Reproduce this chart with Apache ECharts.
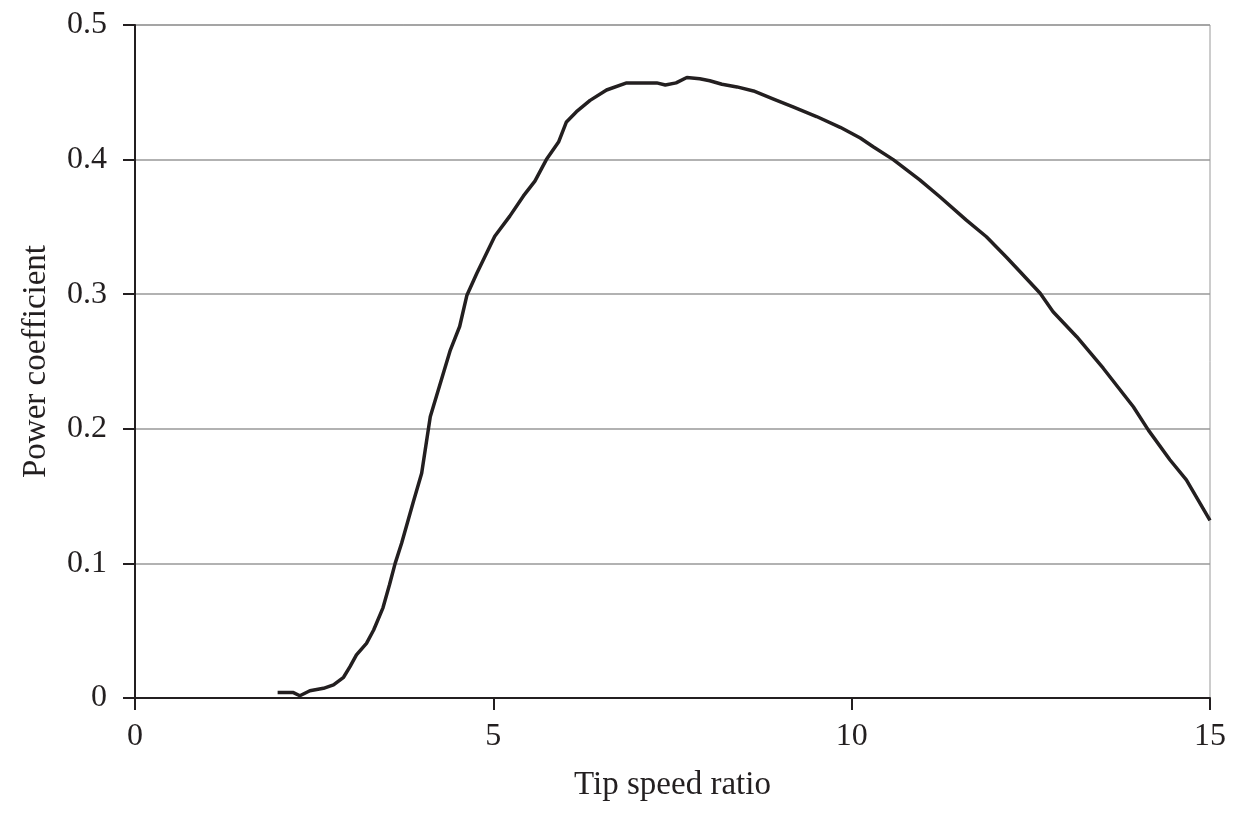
<!DOCTYPE html>
<html>
<head>
<meta charset="utf-8">
<script src="https://cdn.jsdelivr.net/npm/echarts@6/dist/echarts.min.js"></script>
<style>
  html, body { margin: 0; padding: 0; background: #fff; }
  #chart { width: 1235px; height: 817px; }
</style>
</head>
<body>
<div id="chart"></div>
<script>
// tip speed ratio vs power coefficient
const tipSpeed = [
  1.99, 2.21, 2.30, 2.44, 2.63, 2.77, 2.91, 3.00, 3.09, 3.23, 3.33, 3.46,
  3.55, 3.63, 3.72, 3.88, 4.00, 4.12, 4.40, 4.53, 4.63, 4.77, 5.02, 5.23,
  5.42, 5.58, 5.74, 5.91, 6.02, 6.16, 6.35, 6.58, 6.86, 7.28, 7.40, 7.55,
  7.70, 7.88, 8.02, 8.19, 8.40, 8.63, 8.91, 9.19, 9.51, 9.84, 10.12, 10.30,
  10.58, 10.95, 11.23, 11.60, 11.88, 12.16, 12.35, 12.63, 12.81, 13.14, 13.51, 13.93,
  14.14, 14.44, 14.67, 15.0
]
const powerCoef = [
  0.004, 0.004, 0.0017, 0.0054, 0.0072, 0.0097, 0.0154, 0.0233, 0.032, 0.0406, 0.0505, 0.067,
  0.084, 0.100, 0.115, 0.145, 0.167, 0.209, 0.2585, 0.276, 0.299, 0.3155, 0.343, 0.358,
  0.373, 0.384, 0.400, 0.413, 0.428, 0.4356, 0.444, 0.4517, 0.457, 0.457, 0.4554, 0.457,
  0.461, 0.460, 0.4586, 0.456, 0.454, 0.451, 0.445, 0.439, 0.432, 0.424, 0.416, 0.4096,
  0.400, 0.385, 0.3724, 0.355, 0.3427, 0.3275, 0.3167, 0.3007, 0.287, 0.2684, 0.245, 0.2164,
  0.199, 0.177, 0.162, 0.132
]

const fontFamily = '"Liberation Serif", "DejaVu Serif", serif'
const ink = '#231f20'

const chart = echarts.init(document.getElementById('chart'))

const option = {
  animation: false,
  grid: {
    left: 135,
    right: 25,
    top: 25,
    bottom: 119,
    show: true,
    borderColor: '#999999',
    borderWidth: 1
  },
  xAxis: {
    type: 'value',
    min: 0,
    max: 15,
    interval: 5,
    name: 'Tip speed ratio',
    nameLocation: 'middle',
    nameGap: 71,
    nameTextStyle: { color: ink, fontFamily: fontFamily, fontSize: 33 },
    axisLine: { lineStyle: { color: ink, width: 2 } },
    axisTick: { length: 12, lineStyle: { color: ink, width: 2 } },
    axisLabel: { color: ink, fontFamily: fontFamily, fontSize: 32, margin: 23 },
    splitLine: { show: false }
  },
  yAxis: {
    type: 'value',
    min: 0,
    max: 0.5,
    interval: 0.1,
    name: 'Power coefficient',
    nameLocation: 'middle',
    nameGap: 82,
    nameTextStyle: { color: ink, fontFamily: fontFamily, fontSize: 33 },
    axisLine: { show: true, lineStyle: { color: ink, width: 2 } },
    axisTick: { show: true, length: 12, lineStyle: { color: ink, width: 2 } },
    axisLabel: { color: ink, fontFamily: fontFamily, fontSize: 32, margin: 28 },
    splitLine: { show: true, lineStyle: { color: '#999999', width: 1.5 } }
  },
  series: [
    {
      type: 'line',
      data: tipSpeed.map((x, i) => [x, powerCoef[i]]),
      showSymbol: false,
      smooth: false,
      lineStyle: { color: ink, width: 3.5 }
    }
  ]
}

chart.setOption(option)
</script>
</body>
</html>
